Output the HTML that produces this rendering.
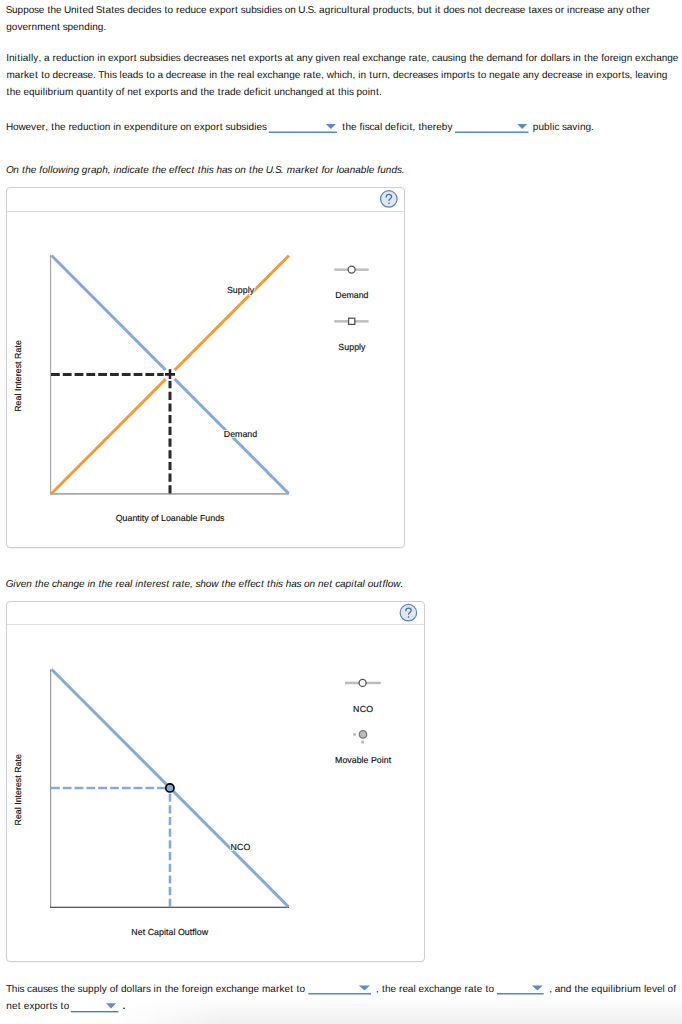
<!DOCTYPE html>
<html><head><meta charset="utf-8"><title>Loanable funds</title>
<style>
html,body{margin:0;padding:0;background:#fff;width:682px;height:1024px;overflow:hidden}
svg{position:absolute;left:0;top:0;display:block}
text{font-family:"Liberation Sans",sans-serif;text-rendering:geometricPrecision}
</style></head><body>
<svg width="682" height="1024" viewBox="0 0 682 1024">
<defs>
<linearGradient id="shd" x1="0" y1="0" x2="0" y2="1">
<stop offset="0" stop-color="#efefef" stop-opacity="0"/>
<stop offset="1" stop-color="#efefef" stop-opacity="1"/>
</linearGradient>
<linearGradient id="shm" x1="0" y1="0" x2="1" y2="0">
<stop offset="0" stop-color="#fff" stop-opacity="0"/>
<stop offset="0.2" stop-color="#fff" stop-opacity="1"/>
<stop offset="1" stop-color="#fff" stop-opacity="1"/>
</linearGradient>
<mask id="shmask"><rect x="110" y="998" width="572" height="26" fill="url(#shm)"/></mask>
</defs>
<rect x="110" y="998" width="572" height="26" fill="url(#shd)" mask="url(#shmask)"/>
<text x="5.8 11.9 17.6 23.2 28.7 34.0 38.8 44.3 47.4 50.6 56.1 61.6 64.1 70.9 76.6 79.3 82.4 87.9 93.5 95.8 102.3 105.4 111.2 114.3 119.6 124.4 127.2 132.8 138.2 143.3 145.6 151.2 156.5 161.3 164.5 167.5 173.0 176.0 179.4 184.9 190.6 196.1 201.0 206.5 209.2 214.8 220.0 225.5 231.2 235.0 238.1 240.7 245.6 251.2 256.6 261.5 263.9 269.6 271.9 277.2 282.0 284.7 290.3 295.9 298.3 305.2 307.4 313.6 316.4 319.1 324.7 330.4 334.0 336.3 341.3 347.0 349.7 352.8 358.5 362.0 367.6 369.9 372.8 378.5 381.9 387.4 393.1 398.6 403.9 406.8 411.6 414.4 417.3 422.9 428.8 432.0 434.9 437.6 440.7 443.5 449.1 454.5 459.8 464.6 467.5 473.0 478.8 481.9 484.8 490.3 495.7 500.8 504.3 509.7 515.0 519.8 525.3 528.4 531.5 537.1 542.2 547.5 552.3 555.0 560.7 564.2 567.1 569.5 575.0 580.1 583.5 588.9 594.2 599.0 604.5 607.2 612.8 618.5 623.6 626.3 632.2 635.3 640.9 646.5" y="13.20" font-size="10.0" fill="#111">Suppose the United States decides to reduce export subsidies on U.S. agricultural products, but it does not decrease taxes or increase any other</text>
<text x="6.3 11.8 17.4 22.4 28.1 31.6 37.3 45.6 51.2 57.1 60.2 62.8 67.6 73.1 78.6 84.2 89.9 92.2 97.8 103.4" y="30.20" font-size="10.0" fill="#111">government spending.</text>
<text x="6.2 8.9 14.6 17.3 20.5 22.8 28.4 30.9 33.3 38.5 41.3 44.0 49.5 52.4 55.9 61.4 67.0 72.5 77.8 81.0 83.3 88.8 94.4 97.3 99.7 105.3 108.0 113.6 118.7 124.3 129.9 133.7 136.9 139.5 144.3 149.9 155.3 160.2 162.6 168.3 170.5 175.8 180.7 183.5 189.0 194.4 199.5 202.9 208.4 213.7 218.4 223.7 228.5 231.3 236.9 242.7 245.8 248.6 254.2 259.3 264.8 270.5 274.3 277.2 282.0 284.8 290.6 293.7 296.5 302.0 307.7 312.8 315.6 321.3 323.8 328.8 334.4 340.0 342.9 346.3 351.7 357.4 359.7 362.4 368.1 373.1 378.1 383.6 389.1 394.7 400.2 405.7 408.7 412.1 417.9 421.0 426.5 429.3 432.0 436.9 442.4 447.8 452.7 455.1 460.7 466.3 469.4 472.5 478.1 483.6 486.4 491.9 497.6 506.0 511.5 517.1 522.7 525.6 528.5 534.1 537.6 540.5 546.0 551.6 554.0 556.3 561.9 565.2 570.0 573.0 575.3 580.9 584.1 587.2 592.7 598.2 601.2 604.1 609.7 613.1 618.7 621.1 626.7 632.3 635.0 640.7 645.7 650.6 656.2 661.7 667.3 672.8" y="61.20" font-size="10.0" fill="#111">Initially, a reduction in export subsidies decreases net exports at any given real exchange rate, causing the demand for dollars in the foreign exchange</text>
<text x="6.4 14.8 20.5 24.0 29.0 34.9 38.0 41.2 44.2 49.7 52.5 58.1 63.5 68.6 72.0 77.4 82.7 87.5 93.0 95.8 98.3 104.0 109.7 111.9 116.7 119.6 121.9 127.3 132.8 138.2 143.1 146.2 149.2 154.7 157.5 163.0 165.8 171.3 176.8 181.8 185.3 190.7 196.0 200.7 206.3 209.2 211.5 217.1 220.3 223.4 228.9 234.5 237.4 240.8 246.3 251.9 254.2 257.0 262.6 267.6 272.6 278.1 283.6 289.2 294.8 300.3 303.2 306.6 312.5 315.5 321.1 323.9 326.7 333.9 339.6 341.9 346.8 352.5 355.3 358.2 360.5 366.1 369.3 372.4 378.2 381.7 387.3 390.1 392.9 398.4 403.9 408.9 412.4 417.8 423.1 427.8 433.2 438.0 440.9 443.4 451.9 457.4 463.0 466.8 469.8 474.6 477.7 480.8 486.3 489.1 494.6 500.2 505.7 511.5 514.6 520.1 522.8 528.3 534.0 539.2 542.0 547.5 553.0 558.0 561.5 566.9 572.2 576.9 582.5 585.4 587.7 593.3 596.1 601.7 606.8 612.3 618.0 621.8 624.7 629.6 632.4 635.3 637.6 643.0 648.6 653.8 656.2 661.8" y="78.20" font-size="10.0" fill="#111">market to decrease. This leads to a decrease in the real exchange rate, which, in turn, decreases imports to negate any decrease in exports, leaving</text>
<text x="6.6 9.8 15.3 20.8 23.5 29.0 34.6 40.3 42.8 45.2 47.6 53.3 56.9 59.3 65.0 73.5 76.3 81.9 87.4 92.9 98.8 102.1 104.7 108.0 113.1 115.8 121.5 124.4 127.2 132.7 138.6 141.7 144.4 150.0 155.2 160.7 166.3 170.1 173.1 177.9 180.6 186.1 191.7 197.3 200.4 203.6 209.1 214.6 217.7 221.0 224.4 229.9 235.4 240.9 243.7 249.3 254.9 258.0 260.2 265.3 268.0 271.1 273.9 279.5 285.0 290.0 295.5 301.0 306.6 312.1 317.6 323.2 325.9 331.7 334.9 338.0 341.1 346.8 349.0 353.8 356.6 362.1 367.7 370.1 376.0 379.1" y="95.20" font-size="10.0" fill="#111">the equilibrium quantity of net exports and the trade deficit unchanged at this point.</text>
<text x="6.0 12.9 18.4 25.5 31.1 36.2 41.8 45.3 48.1 51.3 54.4 59.9 65.5 68.4 71.8 77.3 82.9 88.5 93.7 97.0 99.2 104.7 110.3 113.2 115.6 121.2 123.9 129.5 134.7 140.2 145.7 151.3 157.0 159.7 162.9 168.6 172.0 177.5 180.2 185.7 191.3 194.1 199.7 204.8 210.3 216.0 219.8 222.9 225.5 230.3 235.9 241.3 246.3 248.6 254.3 256.6 261.9" y="130.20" font-size="10.0" fill="#111">However, the reduction in expenditure on export subsidies</text>
<rect x="268.70" y="131.50" width="68.30" height="1.4" fill="#4a80bf"/>
<path d="M325.90 124.00 L335.90 124.00 L330.90 129.00 Z" fill="#5a8dc6"/>
<text x="342.3 345.5 351.0 356.5 359.5 362.6 364.7 369.5 374.3 379.9 382.3 385.1 390.6 396.3 399.4 401.7 406.7 409.4 412.5 415.3 418.5 421.6 427.2 432.8 436.2 441.8 447.5" y="130.20" font-size="10.0" fill="#111">the fiscal deficit, thereby</text>
<rect x="455.00" y="131.50" width="73.50" height="1.4" fill="#4a80bf"/>
<path d="M517.20 124.00 L527.20 124.00 L522.20 129.00 Z" fill="#5a8dc6"/>
<text x="532.8 538.4 544.0 549.7 552.2 554.5 559.4 562.0 566.7 572.3 577.5 579.9 585.5 591.1" y="130.20" font-size="10.0" fill="#111">public saving.</text>
<text x="5.9 13.3 18.9 22.1 25.2 30.8 36.3 39.3 42.2 47.8 50.2 52.5 58.0 65.4 67.8 73.4 79.0 81.8 87.6 91.0 96.5 102.2 107.8 110.6 113.5 115.9 121.5 127.2 129.5 134.4 140.2 143.3 148.8 152.0 155.2 160.7 166.2 169.0 174.6 177.8 180.7 186.1 191.4 194.6 197.7 200.9 206.6 208.7 213.6 216.4 221.9 227.2 232.1 234.8 240.3 245.9 249.1 252.2 257.8 263.3 265.7 272.6 274.9 281.1 283.9 286.8 295.3 300.9 304.5 309.5 315.3 318.5 321.5 324.3 330.0 333.5 336.4 338.7 344.1 349.7 355.2 360.7 366.4 368.7 374.3 377.2 380.2 385.8 391.5 396.9 401.7" y="173.20" font-size="10.0" font-style="italic" fill="#111">On the following graph, indicate the effect this has on the U.S. market for loanable funds.</text>
<text x="5.8 13.3 15.7 20.8 26.3 31.9 35.0 38.1 43.7 49.2 51.9 56.8 62.4 67.9 73.5 79.0 84.5 87.4 89.8 95.4 98.5 101.6 107.1 112.7 115.6 119.0 124.4 130.0 132.4 135.3 137.7 143.6 146.6 152.3 155.7 161.0 166.2 169.3 172.2 175.6 181.5 184.5 190.0 192.8 195.4 200.3 205.8 211.2 218.5 221.6 224.8 230.3 235.8 238.5 244.2 247.3 250.2 255.6 260.9 264.0 267.1 270.3 276.0 278.1 282.9 285.7 291.3 296.5 301.4 304.1 309.6 315.2 318.0 323.5 329.3 332.5 335.2 340.0 345.6 351.3 353.9 357.0 362.6 364.9 367.7 373.2 379.1 382.4 385.4 387.7 393.2 400.4" y="587.20" font-size="10.0" font-style="italic" fill="#111">Given the change in the real interest rate, show the effect this has on net capital outflow.</text>
<text x="5.9 11.7 17.4 19.6 24.4 27.1 32.0 37.5 42.9 47.6 52.9 57.7 60.9 64.0 69.5 75.0 77.6 82.4 88.1 93.7 99.4 101.8 107.0 109.7 115.3 118.3 121.1 126.6 132.2 134.7 136.9 142.6 145.9 150.7 153.6 155.9 161.5 164.7 167.8 173.3 178.9 181.8 184.7 190.3 193.7 199.4 201.7 207.3 212.9 215.7 221.3 226.3 231.3 236.8 242.3 247.9 253.4 258.9 261.9 270.3 275.9 279.5 284.5 290.3 293.4 296.6 299.6" y="992.20" font-size="10.0" fill="#111">This causes the supply of dollars in the foreign exchange market to</text>
<rect x="308.30" y="993.10" width="62.70" height="1.4" fill="#4a80bf"/>
<path d="M358.90 985.50 L369.90 985.50 L364.40 990.50 Z" fill="#5a8dc6"/>
<text x="376.0 378.8 381.9 385.1 390.6 396.1 399.0 402.4 407.8 413.4 415.7 418.5 424.1 429.1 434.0 439.5 445.0 450.6 456.1 461.6 464.5 467.9 473.7 476.8 482.3 485.4 488.4" y="992.20" font-size="10.0" fill="#111">, the real exchange rate to</text>
<rect x="496.90" y="993.10" width="46.80" height="1.4" fill="#4a80bf"/>
<path d="M531.80 985.50 L542.80 985.50 L537.30 990.50 Z" fill="#5a8dc6"/>
<text x="549.2 552.0 554.7 560.2 565.8 571.4 574.5 577.6 583.1 588.6 591.3 596.8 602.4 608.1 610.5 613.0 615.3 621.0 624.6 627.0 632.6 641.1 644.0 646.3 651.9 656.9 662.5 664.8 667.5 673.2" y="992.20" font-size="10.0" fill="#111">, and the equilibrium level of</text>
<text x="6.3 11.9 17.8 21.0 23.7 29.4 34.6 40.1 45.8 49.6 52.6 57.4 60.6 63.7" y="1009.20" font-size="10.0" fill="#111">net exports to</text>
<rect x="70.80" y="1011.00" width="47.50" height="1.4" fill="#4a80bf"/>
<path d="M106.10 1003.20 L116.10 1003.20 L111.10 1008.50 Z" fill="#5a8dc6"/>
<rect x="123.4" y="1007.7" width="1.4" height="1.3" fill="#111"/>
<rect x="6.5" y="188.5" width="398" height="360" rx="3.5" ry="3.5" fill="#ececec"/>
<rect x="6.5" y="187.5" width="398" height="360" rx="3.5" ry="3.5" fill="#fff" stroke="#cfcfcf" stroke-width="1"/>
<rect x="7" y="211" width="397" height="1" fill="#dedede"/>
<circle cx="388.8" cy="198.9" r="8.25" fill="#e0e7f0" stroke="#6284b4" stroke-width="1.2"/>
<g transform="translate(388.8 198.9)"><path d="M-2.6 -1.9 C-2.6 -3.7 -1.5 -4.5 0.1 -4.5 C1.8 -4.5 2.8 -3.5 2.8 -2.2 C2.8 -0.4 0.2 0.0 0.2 1.5" fill="none" stroke="#4a70a6" stroke-width="1.3" stroke-linecap="round"/><rect x="-0.55" y="3.6" width="1.5" height="1.5" rx="0.4" fill="#4a70a6"/></g>
<rect x="50" y="255" width="1.2" height="239" fill="#a8a8a8"/>
<rect x="50" y="493" width="239" height="1.8" fill="#ababab"/>
<line x1="51" y1="374.4" x2="168" y2="374.4" stroke="#2a2a2a" stroke-width="3" stroke-dasharray="8.8 3"/>
<line x1="170" y1="493.5" x2="170" y2="379" stroke="#2a2a2a" stroke-width="3" stroke-dasharray="8.2 3.5"/>
<line x1="51.5" y1="255.5" x2="288.7" y2="493.5" stroke="#86aad6" stroke-width="3"/>
<line x1="51.5" y1="493.5" x2="289" y2="255.5" stroke="#f19c36" stroke-width="3"/>
<circle cx="170" cy="374.4" r="6.5" fill="#fff"/>
<path d="M165 374.4 H175 M170 369.3 V379" stroke="#222" stroke-width="2.6"/>
<text x="226.90" y="293.00" font-size="8.8" fill="#fff" stroke="#fff" stroke-width="2" textLength="27.20" lengthAdjust="spacing">Supply</text>
<text x="226.90" y="293.00" font-size="8.8" fill="#111" stroke="#111" stroke-width="0.15" textLength="27.20" lengthAdjust="spacing">Supply</text>
<text x="223.80" y="436.50" font-size="8.8" fill="#fff" stroke="#fff" stroke-width="2" textLength="33.40" lengthAdjust="spacing">Demand</text>
<text x="223.80" y="436.50" font-size="8.8" fill="#111" stroke="#111" stroke-width="0.15" textLength="33.40" lengthAdjust="spacing">Demand</text>
<text x="115.70" y="521.20" font-size="8.8" fill="#111" stroke="#111" stroke-width="0.15" textLength="108.80" lengthAdjust="spacing">Quantity of Loanable Funds</text>
<g transform="translate(21.3 411.4) rotate(-90)">
<text x="-0.40" y="0.00" font-size="8.8" fill="#111" stroke="#111" stroke-width="0.15" textLength="71.60" lengthAdjust="spacing">Real Interest Rate</text>
</g>
<rect x="334.3" y="268.4" width="34.3" height="2.5" fill="#bdbdbd"/>
<circle cx="351.6" cy="269.6" r="3.5" fill="#fff" stroke="#555" stroke-width="1.3"/>
<text x="335.30" y="298.10" font-size="8.8" fill="#111" stroke="#111" stroke-width="0.15" textLength="33.20" lengthAdjust="spacing">Demand</text>
<rect x="334.3" y="320.1" width="34.3" height="2.5" fill="#bdbdbd"/>
<rect x="348.6" y="318.2" width="6.2" height="6.2" fill="#fff" stroke="#555" stroke-width="1.3"/>
<text x="338.30" y="350.00" font-size="8.8" fill="#111" stroke="#111" stroke-width="0.15" textLength="27.20" lengthAdjust="spacing">Supply</text>
<rect x="6.5" y="602.5" width="418" height="360" rx="3.5" ry="3.5" fill="#ececec"/>
<rect x="6.5" y="601.5" width="418" height="360" rx="3.5" ry="3.5" fill="#fff" stroke="#cfcfcf" stroke-width="1"/>
<rect x="7" y="624" width="417" height="1" fill="#dedede"/>
<circle cx="408.4" cy="612.7" r="8.25" fill="#e0e7f0" stroke="#6284b4" stroke-width="1.2"/>
<g transform="translate(408.4 612.7)"><path d="M-2.6 -1.9 C-2.6 -3.7 -1.5 -4.5 0.1 -4.5 C1.8 -4.5 2.8 -3.5 2.8 -2.2 C2.8 -0.4 0.2 0.0 0.2 1.5" fill="none" stroke="#4a70a6" stroke-width="1.3" stroke-linecap="round"/><rect x="-0.55" y="3.6" width="1.5" height="1.5" rx="0.4" fill="#4a70a6"/></g>
<rect x="50" y="669" width="1.2" height="238" fill="#9a9a9a"/>
<rect x="50" y="906.7" width="239" height="1.2" fill="#4a4a4a"/>
<line x1="51" y1="788" x2="165" y2="788" stroke="#86aad6" stroke-width="2.6" stroke-dasharray="8.8 3"/>
<line x1="170" y1="907" x2="170" y2="792" stroke="#86aad6" stroke-width="2.6" stroke-dasharray="8.2 3.5"/>
<line x1="51.5" y1="669.2" x2="288.4" y2="906.7" stroke="#86aad6" stroke-width="3"/>
<circle cx="169.9" cy="787.9" r="4.1" fill="#86aad6" stroke="#000" stroke-width="1.7"/>
<text x="230.50" y="850.40" font-size="8.8" fill="#fff" stroke="#fff" stroke-width="2" textLength="19.80" lengthAdjust="spacing">NCO</text>
<text x="230.50" y="850.40" font-size="8.8" fill="#111" stroke="#111" stroke-width="0.15" textLength="19.80" lengthAdjust="spacing">NCO</text>
<text x="131.30" y="935.00" font-size="8.8" fill="#111" stroke="#111" stroke-width="0.15" textLength="76.80" lengthAdjust="spacing">Net Capital Outflow</text>
<g transform="translate(21.3 825) rotate(-90)">
<text x="-0.40" y="0.00" font-size="8.8" fill="#111" stroke="#111" stroke-width="0.15" textLength="71.30" lengthAdjust="spacing">Real Interest Rate</text>
</g>
<rect x="345" y="681.7" width="35.7" height="2.5" fill="#bdbdbd"/>
<circle cx="362.6" cy="682.9" r="3.5" fill="#fff" stroke="#555" stroke-width="1.3"/>
<text x="353.00" y="711.90" font-size="8.8" fill="#111" stroke="#111" stroke-width="0.15" textLength="20.20" lengthAdjust="spacing">NCO</text>
<rect x="353.3" y="733.1" width="2.7" height="2.7" fill="#b8b8b8"/>
<rect x="361.2" y="740.6" width="2.7" height="2.9" fill="#b8b8b8"/>
<circle cx="363.0" cy="734.4" r="3.7" fill="#bcbcbc" stroke="#767676" stroke-width="1.3"/>
<text x="335.10" y="763.30" font-size="8.8" fill="#111" stroke="#111" stroke-width="0.15" textLength="56.00" lengthAdjust="spacing">Movable Point</text>
</svg>
</body></html>
